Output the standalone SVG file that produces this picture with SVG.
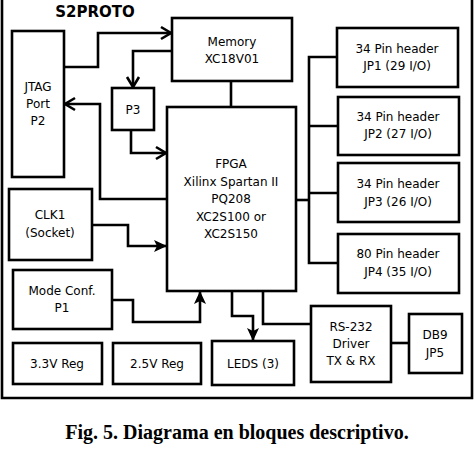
<svg xmlns="http://www.w3.org/2000/svg" width="474" height="474" viewBox="0 0 474 474">
<defs>
<style>
.b{fill:#fff;stroke:#000;stroke-width:2.6}
.c{fill:none;stroke:#000;stroke-width:2.6}
.t{font-family:"DejaVu Sans",sans-serif;font-size:12px;fill:#000;text-anchor:middle}
</style>
<marker id="ao" markerUnits="userSpaceOnUse" markerWidth="14" markerHeight="16" refX="11" refY="7" orient="auto" overflow="visible">
<path d="M1,1 L11,7 L1,13" fill="none" stroke="#000" stroke-width="2.6"/>
</marker>
<marker id="af" markerUnits="userSpaceOnUse" markerWidth="14" markerHeight="12" refX="13" refY="6" orient="auto" overflow="visible">
<path d="M0,0 L13,6 L0,12 L3,6 Z" fill="#000"/>
</marker>
</defs>
<rect width="474" height="474" fill="#fff"/>
<path d="M2,0 V398 H472 V0" fill="none" stroke="#000" stroke-width="2.6"/>
<text x="95" y="17" font-family="'DejaVu Sans',sans-serif" font-weight="bold" font-size="15" text-anchor="middle">S2PROTO</text>

<g id="connectors">
<path class="c" d="M64,67 H98 V33 H171" marker-end="url(#ao)"/>
<path class="c" d="M172,51 H133 V87" marker-end="url(#ao)"/>
<path class="c" d="M131,130 V153 H166" marker-end="url(#ao)"/>
<path class="c" d="M167,199 H100 V104 H65" marker-end="url(#ao)"/>
<path class="c" d="M231,81 V107"/>
<path class="c" d="M296,200 H309"/>
<path class="c" d="M337,57 H309 V263 H338 M309,126 H338 M309,193 H338"/>
<path class="c" d="M92,225 H128 V246 H167" marker-end="url(#af)"/>
<path class="c" d="M112,300 H133 V322 H200 V291" marker-end="url(#af)"/>
<path class="c" d="M232,291 V316 H253 V341" marker-end="url(#af)"/>
<path class="c" d="M263,291 V324 H311"/>
<path class="c" d="M391,343 H409"/>
</g>

<g id="jtag"><rect class="b" x="12" y="31" width="52" height="146"/>
<text class="t" x="38" y="91">JTAG</text><text class="t" x="38" y="108">Port</text><text class="t" x="38" y="125">P2</text></g>
<g id="memory"><rect class="b" x="172" y="18" width="120" height="63"/>
<text class="t" x="232" y="46">Memory</text><text class="t" x="232" y="63">XC18V01</text></g>
<g id="p3"><rect class="b" x="112" y="88" width="42" height="42"/>
<text class="t" x="133" y="114">P3</text></g>
<g id="fpga"><rect class="b" x="167" y="107" width="129" height="184"/>
<text class="t" x="231" y="168">FPGA</text><text class="t" x="231" y="186">Xilinx Spartan II</text><text class="t" x="231" y="203">PQ208</text><text class="t" x="231" y="221">XC2S100 or</text><text class="t" x="231" y="238">XC2S150</text></g>
<g id="jp1"><rect class="b" x="337" y="28" width="121" height="59"/>
<text class="t" x="397" y="53">34 Pin header</text><text class="t" x="397" y="70">JP1 (29 I/O)</text></g>
<g id="jp2"><rect class="b" x="338" y="97" width="121" height="58"/>
<text class="t" x="398" y="121">34 Pin header</text><text class="t" x="398" y="138">JP2 (27 I/O)</text></g>
<g id="jp3"><rect class="b" x="338" y="163" width="121" height="59"/>
<text class="t" x="398" y="188">34 Pin header</text><text class="t" x="398" y="206">JP3 (26 I/O)</text></g>
<g id="jp4"><rect class="b" x="338" y="234" width="121" height="59"/>
<text class="t" x="398" y="258">80 Pin header</text><text class="t" x="398" y="276">JP4 (35 I/O)</text></g>
<g id="clk1"><rect class="b" x="9" y="189" width="83" height="71"/>
<text class="t" x="50" y="219">CLK1</text><text class="t" x="50" y="237">(Socket)</text></g>
<g id="mode"><rect class="b" x="13" y="270" width="99" height="59"/>
<text class="t" x="62" y="295">Mode Conf.</text><text class="t" x="62" y="312">P1</text></g>
<g id="reg33"><rect class="b" x="13" y="343" width="89" height="41"/>
<text class="t" x="57" y="368">3.3V Reg</text></g>
<g id="reg25"><rect class="b" x="113" y="343" width="88" height="41"/>
<text class="t" x="157" y="368">2.5V Reg</text></g>
<g id="leds"><rect class="b" x="212" y="341" width="82" height="44"/>
<text class="t" x="253" y="368">LEDS (3)</text></g>
<g id="rs232"><rect class="b" x="311" y="306" width="80" height="76"/>
<text class="t" x="351" y="331">RS-232</text><text class="t" x="351" y="348">Driver</text><text class="t" x="351" y="365">TX &amp; RX</text></g>
<g id="db9"><rect class="b" x="409" y="314" width="53" height="59"/>
<text class="t" x="435" y="339">DB9</text><text class="t" x="435" y="357">JP5</text></g>

<text x="237" y="439" font-family="'Liberation Serif',serif" font-weight="bold" font-size="20" text-anchor="middle">Fig. 5. Diagrama en bloques descriptivo.</text>
</svg>
